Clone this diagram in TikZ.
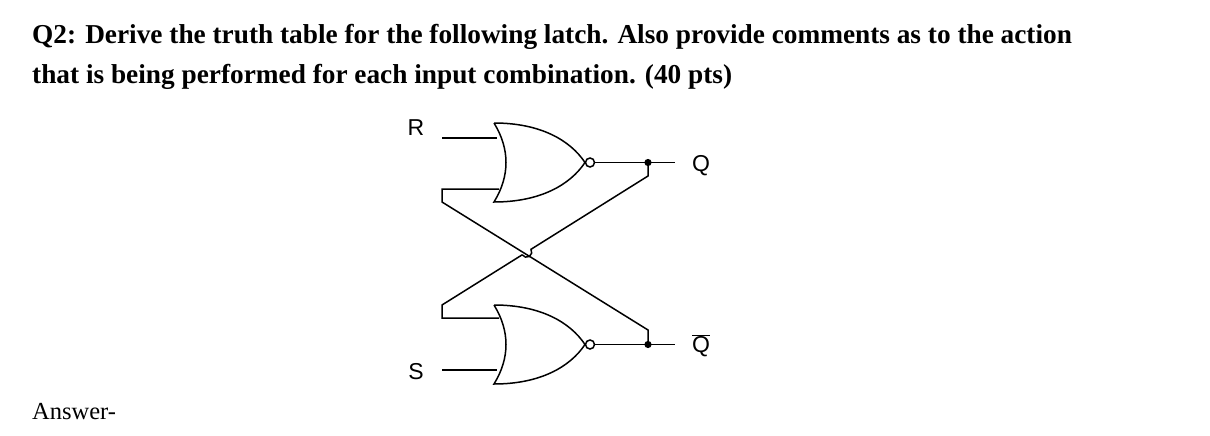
\documentclass[tikz,border=0pt]{standalone}
\usepackage{fontspec}
\setmainfont{Liberation Serif}
\newfontfamily\lblfont{Liberation Sans}
\begin{document}
\begin{tikzpicture}[x=1pt,y=-1pt,
  wire/.style={line width=1.5pt,black},
  ttl/.style={anchor=base west,inner sep=0,font=\fontsize{27.3}{30}\selectfont\bfseries},
  lbl/.style={inner sep=0,font=\fontsize{23}{26}\selectfont\lblfont}]
\useasboundingbox (0,0) rectangle (1210,436);
\node[ttl] (t1) at (32,44) {Q2: Derive the truth table for the following latch. Also provide comments as to the action};
\node[ttl] (t2) at (32,84) {that is being performed for each input combination. (40 pts)};
\node[anchor=base west,inner sep=0,font=\fontsize{24.5}{28}\selectfont] (ans) at (32,419) {Answer-};
% gates
\foreach \g/\yt in {g1/123, g2/305}{
  \draw[wire] (494,\yt) .. controls (510,\yt+26) and (510,\yt+53) .. (494,\yt+79)
     .. controls (540,\yt+79) and (570,\yt+62) .. (585,\yt+39.5)
     .. controls (570,\yt+17) and (540,\yt) .. (494,\yt);
  \draw[wire,fill=white] (590,\yt+39.5) circle (4.5);
  \coordinate (\g o) at (594.5,\yt+39.5);
}
\node[lbl] (R) at (416,128) {R};
\node[lbl] (S) at (416,372) {S};
\node[lbl] (Q) at (701,166) {Q};
\node[lbl] (Qb) at (701,346) {$\overline{\mbox{Q}}$};
\coordinate (d1) at (648,162.5);
\coordinate (d2) at (648,344.5);
\draw[wire] (442,138) -- (497,138);
\draw[wire] (442,370) -- (497,370);
\draw[wire] (g1o) -- (675,162.5);
\draw[wire] (g2o) -- (675,344.5);
\fill (d1) circle (3.6);
\fill (d2) circle (3.6);
% feedback
\draw[wire] (499,189) -- (442,189) -- (442,202) -- (648,330) -- (d2);
\draw[wire] (d1) -- (648,176) -- (531,249.3) arc[start angle=-32,end angle=148,radius=5.2] (522.2,254.8) -- (442,305) -- (442,318) -- (499,318);
\end{tikzpicture}
\end{document}
